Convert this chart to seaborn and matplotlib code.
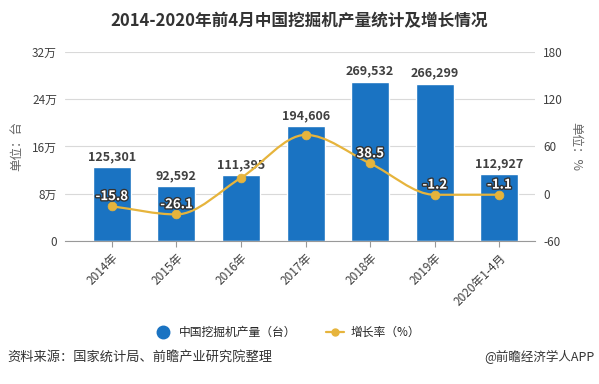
import numpy as np
import pandas as pd
import matplotlib
matplotlib.use('Agg')
import matplotlib.pyplot as plt
import matplotlib.patheffects as pe
from matplotlib.path import Path
from matplotlib.patches import PathPatch
from matplotlib.lines import Line2D
import seaborn as sns

years = ['2014年', '2015年', '2016年', '2017年', '2018年', '2019年', '2020年1-4月']
output = [125301, 92592, 111395, 194606, 269532, 266299, 112927]
growth = [-15.8, -26.1, 20.3, 74.7, 38.5, -1.2, -1.1]
growth_labels = ['-15.8', '-26.1', '', '', '38.5', '-1.2', '-1.1']
left_ticks = [0, 80000, 160000, 240000, 320000]
left_ticklabels = ['0', '8万', '16万', '24万', '32万']
right_ticks = [-60, 0, 60, 120, 180]

sns.set_style('white')
plt.rcParams['font.family'] = ['Noto Sans CJK SC', 'DejaVu Sans']
plt.rcParams['axes.unicode_minus'] = False

bar_c = '#1a73c2'
line_c = '#e6b43c'
txt_c = '#404040'

df = pd.DataFrame({'year': years, 'output': output, 'growth': growth})

fig = plt.figure(figsize=(5.99, 3.84), dpi=100)
ax = fig.add_axes([0.109, 0.372, 0.784, 0.493])
sns.barplot(data=df, x='year', y='output', color=bar_c, width=0.59, ax=ax, saturation=1)
ax.set_ylim(0, 320000)
ax.set_xlim(-0.72, 6.55)
ax.set_yticks(left_ticks)
ax.set_yticklabels(left_ticklabels, fontsize=8.5, color=txt_c)
ax.grid(axis='y', color='#d9d9d9', lw=0.8)
ax.set_axisbelow(True)
for s in ['top', 'right', 'left']:
    ax.spines[s].set_visible(False)
ax.spines['bottom'].set_color('#999999')
ax.spines['bottom'].set_linewidth(0.8)
ax.tick_params(axis='y', length=0, pad=6)
ax.tick_params(axis='x', length=4, color='#999999', width=0.8, bottom=True)
ax.set_xticks(range(len(years)))
ax.set_xticklabels(years, rotation=45, ha='right', rotation_mode='anchor', fontsize=8.5, color=txt_c)
ax.set_xlabel('')
ax.set_ylabel('单位：台', fontsize=9, color='#666666', labelpad=6)

for i, v in enumerate(output):
    ax.text(i, v + 7000, f'{v:,}', ha='center', va='bottom', fontsize=9, fontweight='bold', color=txt_c)

ax2 = ax.twinx()
ax2.set_ylim(-60, 180)
ax2.set_yticks(right_ticks)
ax2.set_yticklabels([str(t) for t in right_ticks], fontsize=8.5, color=txt_c)
ax2.tick_params(axis='y', length=0, pad=6)
for s in ax2.spines.values():
    s.set_visible(False)
ax2.set_ylabel('单位：%', fontsize=9, color='#666666', rotation=270, labelpad=14)

# smooth monotone curve through the growth points, drawn as bezier segments
xs = np.arange(len(growth), dtype=float)
ys = np.array(growth, dtype=float)
d = np.diff(ys)
m = np.zeros(len(ys))
m[0], m[-1] = d[0], d[-1]
for i in range(1, len(ys) - 1):
    if d[i - 1] * d[i] <= 0:
        m[i] = 0.0
    else:
        m[i] = 2.0 / (1.0 / d[i - 1] + 1.0 / d[i])
verts = [(xs[0], ys[0])]
codes = [Path.MOVETO]
for i in range(len(xs) - 1):
    verts += [(xs[i] + 1 / 3, ys[i] + m[i] / 3),
              (xs[i + 1] - 1 / 3, ys[i + 1] - m[i + 1] / 3),
              (xs[i + 1], ys[i + 1])]
    codes += [Path.CURVE4] * 3
ax2.add_patch(PathPatch(Path(verts, codes), facecolor='none', edgecolor=line_c, lw=1.6, zorder=3))
sns.scatterplot(data=df, x=np.arange(len(growth)), y='growth', color=line_c, s=40, edgecolor=line_c, ax=ax2, zorder=4)
ax2.set_xlim(-0.72, 6.55)

for i, lab in enumerate(growth_labels):
    if lab:
        ax2.text(i, growth[i] + 4, lab, ha='center', va='bottom', fontsize=9.5, fontweight='bold',
                 color='white', path_effects=[pe.withStroke(linewidth=2, foreground='#333333')], zorder=5)

fig.text(0.5, 0.945, '2014-2020年前4月中国挖掘机产量统计及增长情况', ha='center', va='center',
         fontsize=12, fontweight='bold', color='#333333')

handles = [Line2D([0], [0], marker='o', color='none', markerfacecolor=bar_c, markeredgecolor=bar_c, markersize=9),
           Line2D([0], [0], marker='o', color=line_c, markerfacecolor=line_c, markersize=5, lw=1.6)]
fig.legend(handles, ['中国挖掘机产量（台）', '增长率（%）'], loc='center', bbox_to_anchor=(0.48, 0.135),
           ncol=2, frameon=False, fontsize=8.5, handlelength=1.5, columnspacing=2.5, handletextpad=0.6)

fig.text(0.012, 0.07, '资料来源：国家统计局、前瞻产业研究院整理', ha='left', va='center', fontsize=9.5, color='#333333')
fig.text(0.993, 0.07, '@前瞻经济学人APP', ha='right', va='center', fontsize=9, color='#333333')

fig.savefig('out.png', dpi=100)
